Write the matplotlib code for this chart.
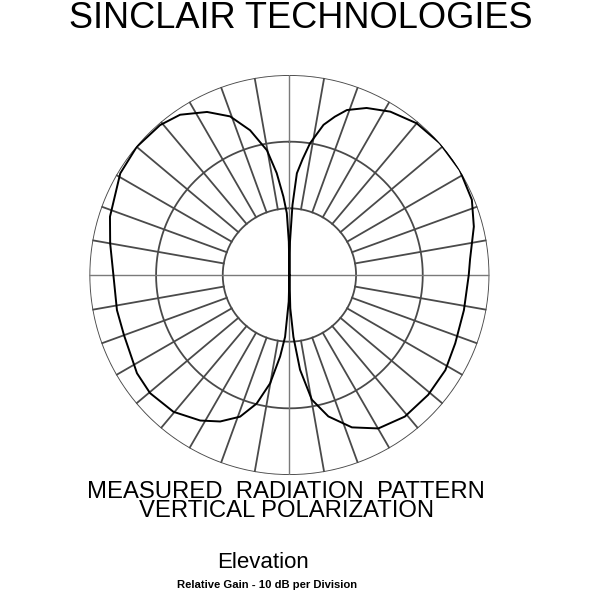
import numpy as np
import matplotlib
matplotlib.use("Agg")
import matplotlib.pyplot as plt

# Measured pattern: angle (deg, clockwise from zenith) and relative gain (dB)
angles_deg = [0, 1, 2.5, 4.2, 6.5, 8.9, 12.8, 16, 19.2, 24.8, 31.7, 40, 48.8, 58.4,
              67.6, 75.3, 85, 90, 101.4, 112.4, 121.4, 130.8, 140.8, 149.9, 157.7,
              164.6, 169.8, 173.6, 176.3, 178.5, 180,
              181.5, 184, 186.5, 190.1, 194.3, 199.2, 205.3, 211.5, 220.3, 229.7,
              237.2, 250, 258.5, 270, 280, 288, 301, 310, 319.2, 325.7, 333.2,
              339.5, 344.8, 349.8, 352.9, 355.6, 357.6, 359, 360]
gain_db = [-30, -25, -19.5, -14.7, -12.5, -10, -6.9, -5.3, -3.8, -2.4, -1.2, -0.3, 0, 0,
           -0.4, -1.4, -2.8, -3.1, -3.3, -3.1, -2.6, -2.5, -2.6, -3.4, -5.3,
           -8.0, -11, -15.7, -20.7, -25, -30,
           -26, -20.7, -17.7, -13.5, -10.1, -7.5, -5.7, -4.4, -3.1, -2.6,
           -2.8, -3.6, -3.6, -3.6, -2.7, -1.7, -0.4, -0.1, -0.3, -0.9, -2.6,
           -4.6, -7.5, -11, -14.6, -18.2, -20.7, -25, -30]

ring_db = [-20, -10, 0]          # grid circles
spoke_deg = list(range(0, 360, 10))
floor_db = -30

title = "SINCLAIR TECHNOLOGIES"
line1 = "MEASURED  RADIATION  PATTERN"
line2 = "VERTICAL POLARIZATION"
line3 = "Elevation"
line4 = "Relative Gain - 10 dB per Division"

plt.rcParams['font.family'] = ['Liberation Sans', 'DejaVu Sans']

fig = plt.figure(figsize=(6, 6), dpi=100)
fig.patch.set_facecolor('white')
ax = fig.add_axes([0.149, 0.2083, 0.6667, 0.6667], projection='polar')
ax.set_theta_zero_location('N')
ax.set_theta_direction(-1)
ax.set_ylim(0, -floor_db)
ax.grid(False)
ax.set_xticks([])
ax.set_yticks([])
ax.spines['polar'].set_visible(False)

grid_col = '#4a4a4a'
fine = np.linspace(0, 2 * np.pi, 721)
for rd in ring_db:
    ax.plot(fine, np.full_like(fine, rd - floor_db), color=grid_col, lw=1.3, zorder=1)

inner = ring_db[0] - floor_db
outer = ring_db[-1] - floor_db
for d in spoke_deg:
    th = np.deg2rad(d)
    if d % 90 == 0:
        ax.plot([th, th], [0, outer], color='#7a7a7a', lw=1.0, zorder=1)
    else:
        ax.plot([th, th], [inner, outer], color=grid_col, lw=1.3, zorder=1)

th = np.deg2rad(angles_deg)
r = np.clip(np.array(gain_db) - floor_db, 0, None)
ax.plot(th, r, color='black', lw=1.4, zorder=3)

fig.text(0.501, 1 - 18.5 / 600, title, ha='center', va='center', fontsize=26)
fig.text(0.477, 1 - 501.5 / 600, line1 + "\n" + line2, ha='center', va='center',
         multialignment='center', fontsize=17.2, linespacing=0.88)
fig.text(0.438, 1 - 563 / 600, line3, ha='center', va='center', fontsize=16)
fig.text(0.445, 1 - 585.5 / 600, line4, ha='center', va='center', fontsize=8.1,
         fontweight='bold')

fig.savefig('out.png', dpi=100, facecolor='white')
